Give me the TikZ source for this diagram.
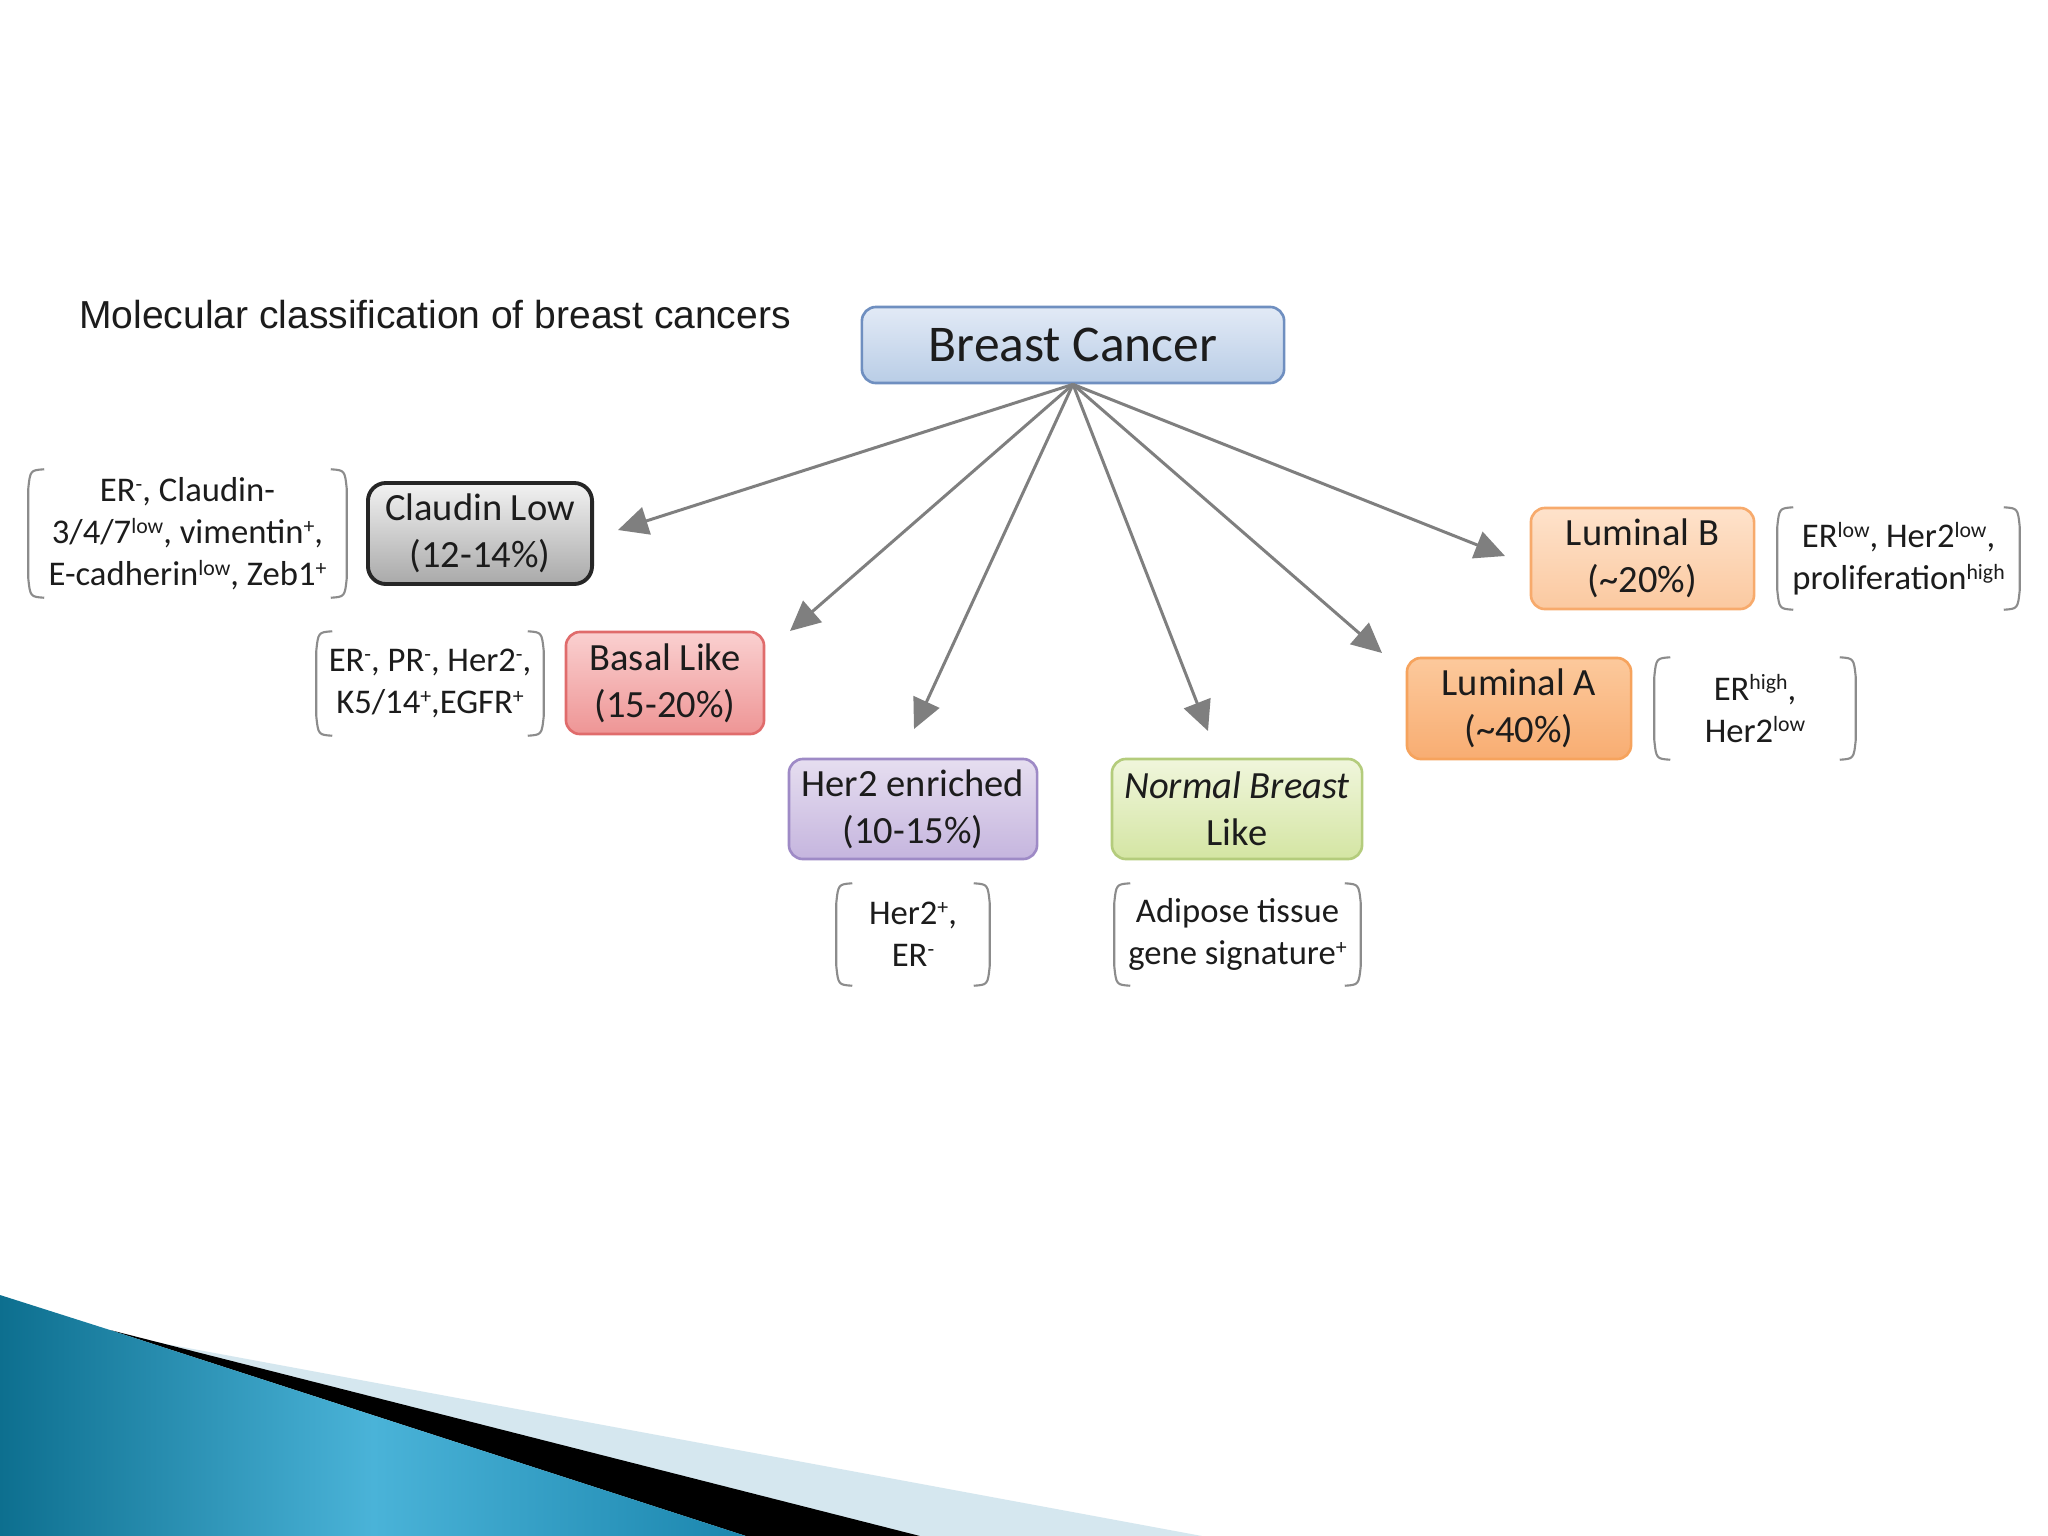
\documentclass[tikz,border=0pt]{standalone}
\usepackage{fontspec}
\setmainfont{Carlito}
\newfontfamily\titlefont{Liberation Sans}
\usetikzlibrary{arrows.meta,calc}
\definecolor{txt}{HTML}{1C1C1C}
\definecolor{arrgray}{HTML}{7F7F7F}
\definecolor{brkgray}{HTML}{8C8C8C}
\definecolor{bcTop}{HTML}{E2EAF6}\definecolor{bcBot}{HTML}{B9CDE6}\definecolor{bcDraw}{HTML}{6F8FC0}
\definecolor{clTop}{HTML}{F2F2F2}\definecolor{clBot}{HTML}{A9A9A9}\definecolor{clDraw}{HTML}{262626}
\definecolor{baTop}{HTML}{FAD0D0}\definecolor{baBot}{HTML}{EE9595}\definecolor{baDraw}{HTML}{E06C6C}
\definecolor{heTop}{HTML}{E6DEF0}\definecolor{heBot}{HTML}{C5B5DE}\definecolor{heDraw}{HTML}{9E8AC6}
\definecolor{noTop}{HTML}{F0F6DC}\definecolor{noBot}{HTML}{D4E5A3}\definecolor{noDraw}{HTML}{B4CC7C}
\definecolor{laTop}{HTML}{FCC99C}\definecolor{laBot}{HTML}{F8AD72}\definecolor{laDraw}{HTML}{F6A35D}
\definecolor{lbTop}{HTML}{FEE2CB}\definecolor{lbBot}{HTML}{FBC9A0}\definecolor{lbDraw}{HTML}{F7AA6C}
\definecolor{swDark}{HTML}{0D6F8F}\definecolor{swMid}{HTML}{4AB3D8}\definecolor{swRight}{HTML}{1B86AE}
\definecolor{swLight}{HTML}{D5E7EF}
\newcommand\sups[1]{\raisebox{0.62ex}{\fontsize{6.2pt}{6.2pt}\selectfont #1}}
\newcommand\drawbrackets[1]{%
  \draw[brkline] ($(#1.north west)+(16,0)$) .. controls ($(#1.north west)+(2,1)$) .. ($(#1.north west)+(0,20)$)
    -- ($(#1.south west)+(0,-20)$) .. controls ($(#1.south west)+(2,-1)$) .. ($(#1.south west)+(16,0)$);
  \draw[brkline] ($(#1.north east)+(-16,0)$) .. controls ($(#1.north east)+(-2,1)$) .. ($(#1.north east)+(0,20)$)
    -- ($(#1.south east)+(0,-20)$) .. controls ($(#1.south east)+(-2,-1)$) .. ($(#1.south east)+(-16,0)$);}
\begin{document}
\begin{tikzpicture}[x=0.01cm,y=-0.01cm,
  box/.style={rounded corners=0.14cm, align=center, text=txt, inner sep=0pt,
    font=\fontsize{10.95pt}{13.4pt}\selectfont, line width=0.75pt},
  brk/.style={align=center, text=txt, inner sep=0pt,
    font=\fontsize{9.85pt}{11.95pt}\selectfont},
  brkline/.style={draw=brkgray, line width=0.6pt},
  arr/.style={draw=arrgray, line width=0.85pt, -{Triangle[length=8.5pt,width=8pt]}, color=arrgray}]
\useasboundingbox (0,0) rectangle (2048,1536);
\fill[white] (0,0) rectangle (2048,1536);

% bottom swoosh
\fill[swLight] (150,1341) -- (1202,1536) -- (746,1536) -- (110,1330) -- cycle;
\fill[black] (110,1330) -- (920,1536) -- (746,1536) -- cycle;
\shade[left color=swDark, right color=swRight, middle color=swMid]
  (0,1295) -- (110,1330) -- (746,1536) -- (0,1536) -- cycle;

% title
\node[font=\titlefont\fontsize{11.1pt}{13pt}\selectfont, text=txt, inner sep=0pt] (title) at (435,315) {Molecular classification of breast cancers};

% main nodes
\node[box, font=\fontsize{14.65pt}{17pt}\selectfont, draw=bcDraw, top color=bcTop, bottom color=bcBot,
  minimum width=4.22cm, minimum height=0.76cm] (bc) at (1073,345) {Breast Cancer};
\node[box, draw=clDraw, line width=1.1pt, top color=clTop, bottom color=clBot,
  minimum width=2.24cm, minimum height=1.01cm, rounded corners=0.18cm] (cl) at (480,533.5) {Claudin Low\\(12-14\%)};
\node[box, draw=baDraw, top color=baTop, bottom color=baBot,
  minimum width=1.98cm, minimum height=1.02cm] (ba) at (665,683) {Basal Like\\(15-20\%)};
\node[box, draw=heDraw, top color=heTop, bottom color=heBot,
  minimum width=2.48cm, minimum height=1.00cm] (he) at (913,809) {Her2 enriched\\(10-15\%)};
\node[box, draw=noDraw, top color=noTop, bottom color=noBot,
  minimum width=2.50cm, minimum height=1.00cm] (no) at (1237,809) {\textit{Normal Breast}\\Like};
\node[box, draw=laDraw, top color=laTop, bottom color=laBot,
  minimum width=2.24cm, minimum height=1.01cm] (la) at (1519,708.5) {Luminal A\\(\textasciitilde40\%)};
\node[box, draw=lbDraw, top color=lbTop, bottom color=lbBot,
  minimum width=2.23cm, minimum height=1.01cm] (lb) at (1642.5,558.5) {Luminal B\\(\textasciitilde20\%)};

% marker brackets
\node[brk, minimum width=3.17cm, minimum height=1.27cm] (clm) at (187.5,533.5)
  {ER\sups{-}, Claudin-\\3/4/7\sups{low}, vimentin\sups{+},\\E-cadherin\sups{low}, Zeb1\sups{+}};
\node[brk, minimum width=2.26cm, minimum height=1.03cm] (bam) at (430,683.5)
  {ER\sups{-}, PR\sups{-}, Her2\sups{-},\\K5/14\sups{+},EGFR\sups{+}};
\node[brk, minimum width=1.52cm, minimum height=1.01cm] (hem) at (913,934.5)
  {Her2\sups{+},\\ER\sups{-}};
\node[brk, minimum width=2.45cm, minimum height=1.01cm] (nom) at (1237.5,934.5)
  {Adipose tissue\\gene signature\sups{+}};
\node[brk, minimum width=2.00cm, minimum height=1.01cm] (lam) at (1755,708.5)
  {ER\sups{high},\\Her2\sups{low}};
\node[brk, minimum width=2.41cm, minimum height=1.01cm] (lbm) at (1898.5,558.5)
  {ER\sups{low}, Her2\sups{low},\\proliferation\sups{high}};
\foreach \n in {clm,bam,hem,nom,lam,lbm} {\drawbrackets{\n}}

% arrow tips
\coordinate (tcl) at (618,530);
\coordinate (tba) at (790,631);
\coordinate (the) at (914,729);
\coordinate (tno) at (1208,731);
\coordinate (tla) at (1382,653);
\coordinate (tlb) at (1505,556);
\foreach \t in {tcl,tba,the,tno,tla,tlb} {\draw[arr] (bc.south) -- (\t);}
\end{tikzpicture}
\end{document}
